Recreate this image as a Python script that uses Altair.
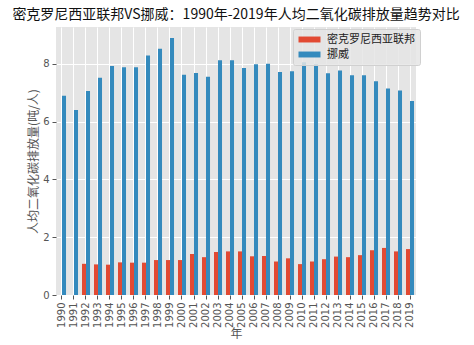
import altair as alt
import pandas as pd

years = [str(y) for y in range(1990, 2020)]
fsm = [None, None, 1.08, 1.06, 1.05, 1.13, 1.12, 1.12, 1.21, 1.21,
       1.21, 1.42, 1.31, 1.49, 1.51, 1.51, 1.34, 1.35, 1.16, 1.27,
       1.07, 1.16, 1.24, 1.33, 1.31, 1.38, 1.55, 1.63, 1.51, 1.59]
nor = [6.90, 6.41, 7.06, 7.52, 7.93, 7.89, 7.89, 8.29, 8.53, 8.90,
       7.63, 7.69, 7.56, 8.13, 8.13, 7.86, 7.99, 8.01, 7.72, 7.75,
       8.06, 7.99, 7.68, 7.77, 7.61, 7.61, 7.40, 7.15, 7.08, 6.72]
series = ["密克罗尼西亚联邦", "挪威"]
colors = ["#E24A33", "#348ABD"]

rows = []
for i, y in enumerate(years):
    rows.append({"年": y, "国家": series[0], "值": fsm[i]})
    rows.append({"年": y, "国家": series[1], "值": nor[i]})
df = pd.DataFrame(rows)

cjk = "Noto Sans CJK SC"

chart = alt.Chart(df).mark_bar().encode(
    x=alt.X("年:N", sort=years,
            scale=alt.Scale(paddingInner=0.33, paddingOuter=0.165),
            axis=alt.Axis(title="年", labelAngle=-90, labelFont="DejaVu Sans",
                          labelFontSize=10, labelColor="#555555",
                          titleFont=cjk, titleFontSize=12, titleColor="#555555",
                          titleFontWeight="normal",
                          grid=True, gridColor="white", gridWidth=1,
                          tickColor="#555555", tickSize=4, domain=False,
                          labelPadding=3, titlePadding=1)),
    xOffset=alt.XOffset("国家:N", sort=series),
    y=alt.Y("值:Q", scale=alt.Scale(domain=[0, 9.28], nice=False),
            axis=alt.Axis(title="人均二氧化碳排放量(吨/人)", values=[0, 2, 4, 6, 8],
                          labelFont="DejaVu Sans", labelFontSize=10,
                          labelColor="#555555", titleFont=cjk, titleFontSize=12,
                          titleColor="#555555", titleFontWeight="normal",
                          grid=True, gridColor="white", gridWidth=1,
                          tickColor="#555555", tickSize=4, domain=False,
                          labelPadding=3, titlePadding=2)),
    color=alt.Color("国家:N", sort=series,
                    scale=alt.Scale(domain=series, range=colors),
                    legend=alt.Legend(title=None, orient="none", legendX=237, legendY=2,
                                      labelFont=cjk, labelFontSize=11, labelColor="#222222",
                                      symbolType="M-2,-0.54H2V0.54H-2Z", symbolSize=121,
                                      symbolOffset=6,
                                      symbolStrokeWidth=0, rowPadding=3,
                                      fillColor="rgba(229,229,229,0.85)",
                                      strokeColor="#d0d0d0", padding=5, labelOffset=12,
                                      cornerRadius=2)),
).properties(
    width=360, height=268,
    title=alt.TitleParams("密克罗尼西亚联邦VS挪威：1990年-2019年人均二氧化碳排放量趋势对比",
                          font=cjk, fontSize=14, fontWeight="normal", color="#111111",
                          anchor="middle", offset=5),
    background="white",
    autosize=alt.AutoSizeParams(type="none"),
    padding={"left": 56, "top": 27, "right": 58, "bottom": 50},
).configure_view(fill="#E5E5E5", stroke=None)

chart.save("out.html", embed_options={"renderer": "svg", "actions": False})
